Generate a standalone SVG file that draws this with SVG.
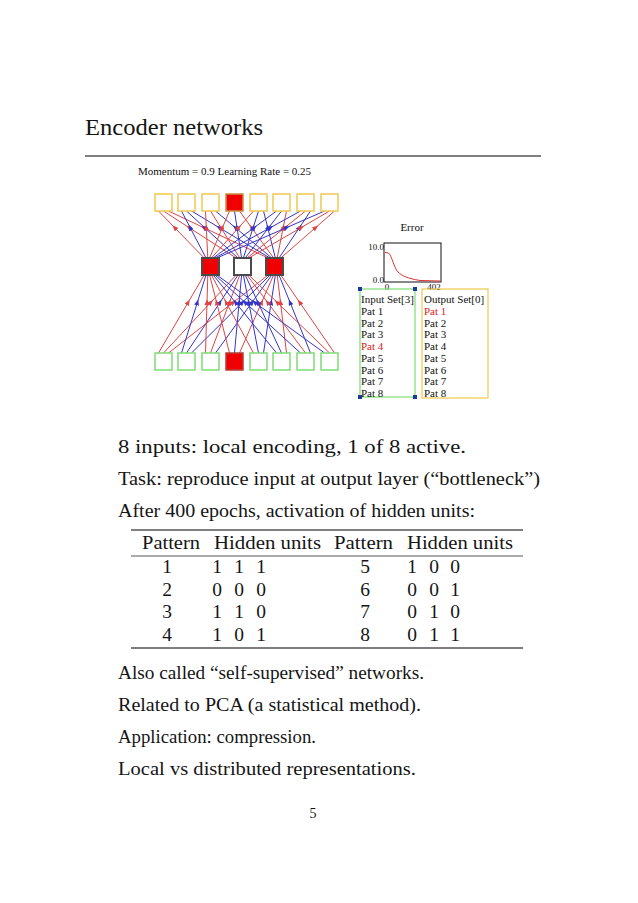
<svg xmlns="http://www.w3.org/2000/svg" width="638" height="903" viewBox="0 0 638 903">
<style>
.bg{fill:#ffffff}
.page{font-family:"Liberation Serif","Times New Roman",serif;fill:#151515}
.body{font-size:19.5px}
.small{font-family:"Liberation Serif","Times New Roman",serif;fill:#111;font-size:11px}
.tiny{font-family:"Liberation Serif","Times New Roman",serif;fill:#111;font-size:9px}
.r{fill:none;stroke:#dd4444;stroke-width:1;marker-mid:url(#ar)}
.b{fill:none;stroke:#3535c8;stroke-width:1;marker-mid:url(#ab)}
.out{fill:#fff;stroke:#f0c850;stroke-width:1.5}
.inp{fill:#fff;stroke:#7ddc74;stroke-width:1.5}
.hid{fill:#fff;stroke:#4a4a4a;stroke-width:2}
.handle{fill:#1b3a9a}
</style>
<defs>
<marker id="ar" markerWidth="6" markerHeight="5" refX="3" refY="2.5" orient="auto" markerUnits="userSpaceOnUse"><path d="M0,0 L6,2.5 L0,5z" fill="#dd4444"/></marker>
<marker id="ab" markerWidth="6" markerHeight="5" refX="3" refY="2.5" orient="auto" markerUnits="userSpaceOnUse"><path d="M0,0 L6,2.5 L0,5z" fill="#3535c8"/></marker>
</defs>
<rect class="bg" x="0" y="0" width="638" height="903"/>

<text class="page" x="85" y="135" font-size="24" textLength="178" lengthAdjust="spacingAndGlyphs">Encoder networks</text>
<line x1="85" y1="156" x2="541" y2="156" stroke="#555" stroke-width="1.5"/>

<text class="small" x="138" y="175">Momentum = 0.9 Learning Rate = 0.25</text>

<g id="connectors">
<path class="r" d="M204.2,258 L174.5,227.5 L158.5,211"/>
<path class="r" d="M236.2,258 L188.9,227.5 L163.5,211"/>
<path class="r" d="M268.2,258 L203.4,227.5 L168.5,211"/>
<path class="b" d="M206,258 L190.1,227.5 L181.5,211"/>
<path class="b" d="M238,258 L204.5,227.5 L186.5,211"/>
<path class="b" d="M270,258 L219,227.5 L191.5,211"/>
<path class="r" d="M207.8,258 L206.3,227.5 L205.5,211"/>
<path class="r" d="M239.8,258 L220.8,227.5 L210.5,211"/>
<path class="b" d="M271.8,258 L235.2,227.5 L215.5,211"/>
<path class="r" d="M209.6,258 L222.5,227.5 L229.5,211"/>
<path class="b" d="M241.6,258 L237,227.5 L234.5,211"/>
<path class="r" d="M273.6,258 L251.4,227.5 L239.5,211"/>
<path class="r" d="M211.4,258 L238.8,227.5 L253.5,211"/>
<path class="b" d="M243.4,258 L253.2,227.5 L258.5,211"/>
<path class="b" d="M275.4,258 L267.7,227.5 L263.5,211"/>
<path class="b" d="M213.2,258 L254.3,227.5 L276.5,211"/>
<path class="b" d="M245.2,258 L268.8,227.5 L281.5,211"/>
<path class="r" d="M277.2,258 L283.2,227.5 L286.5,211"/>
<path class="b" d="M215,258 L270.6,227.5 L300.5,211"/>
<path class="r" d="M247,258 L285,227.5 L305.5,211"/>
<path class="b" d="M279,258 L299.5,227.5 L310.5,211"/>
<path class="b" d="M216.8,258 L286.8,227.5 L324.5,211"/>
<path class="r" d="M248.8,258 L301.3,227.5 L329.5,211"/>
<path class="r" d="M280.8,258 L315.7,227.5 L334.5,211"/>

<path class="r" d="M158.5,353 L188.2,302.3 L204.2,275"/>
<path class="r" d="M163.5,353 L210.8,302.3 L236.2,275"/>
<path class="r" d="M168.5,353 L233.3,302.3 L268.2,275"/>
<path class="b" d="M181.5,353 L197.4,302.3 L206,275"/>
<path class="b" d="M186.5,353 L220,302.3 L238,275"/>
<path class="b" d="M191.5,353 L242.5,302.3 L270,275"/>
<path class="r" d="M205.5,353 L207,302.3 L207.8,275"/>
<path class="r" d="M210.5,353 L229.5,302.3 L239.8,275"/>
<path class="b" d="M215.5,353 L252.1,302.3 L271.8,275"/>
<path class="r" d="M229.5,353 L216.6,302.3 L209.6,275"/>
<path class="b" d="M234.5,353 L239.1,302.3 L241.6,275"/>
<path class="r" d="M239.5,353 L261.7,302.3 L273.6,275"/>
<path class="r" d="M253.5,353 L226.1,302.3 L211.4,275"/>
<path class="b" d="M258.5,353 L248.7,302.3 L243.4,275"/>
<path class="b" d="M263.5,353 L271.2,302.3 L275.4,275"/>
<path class="b" d="M276.5,353 L235.4,302.3 L213.2,275"/>
<path class="b" d="M281.5,353 L257.9,302.3 L245.2,275"/>
<path class="r" d="M286.5,353 L280.5,302.3 L277.2,275"/>
<path class="b" d="M300.5,353 L244.9,302.3 L215,275"/>
<path class="r" d="M305.5,353 L267.5,302.3 L247,275"/>
<path class="b" d="M310.5,353 L290,302.3 L279,275"/>
<path class="b" d="M324.5,353 L254.5,302.3 L216.8,275"/>
<path class="r" d="M329.5,353 L277,302.3 L248.8,275"/>
<path class="r" d="M334.5,353 L299.6,302.3 L280.8,275"/>
</g>

<g id="out1"><rect class="out" x="155" y="194" width="17" height="17"/></g>
<g id="out2"><rect class="out" x="178" y="194" width="17" height="17"/></g>
<g id="out3"><rect class="out" x="202" y="194" width="17" height="17"/></g>
<g id="out4"><rect class="out" x="226" y="194" width="17" height="17" style="fill:#f00000;stroke:#c89040"/></g>
<g id="out5"><rect class="out" x="250" y="194" width="17" height="17"/></g>
<g id="out6"><rect class="out" x="273" y="194" width="17" height="17"/></g>
<g id="out7"><rect class="out" x="297" y="194" width="17" height="17"/></g>
<g id="out8"><rect class="out" x="321" y="194" width="17" height="17"/></g>

<g id="hid1"><rect class="hid" x="202" y="258" width="17" height="17" style="fill:#f00000"/></g>
<g id="hid2"><rect class="hid" x="234" y="258" width="17" height="17"/></g>
<g id="hid3"><rect class="hid" x="266" y="258" width="17" height="17" style="fill:#f00000"/></g>

<g id="in1"><rect class="inp" x="155" y="353" width="17" height="17"/></g>
<g id="in2"><rect class="inp" x="178" y="353" width="17" height="17"/></g>
<g id="in3"><rect class="inp" x="202" y="353" width="17" height="17"/></g>
<g id="in4"><rect class="inp" x="226" y="353" width="17" height="17" style="fill:#f00000;stroke:#b04030"/></g>
<g id="in5"><rect class="inp" x="250" y="353" width="17" height="17"/></g>
<g id="in6"><rect class="inp" x="273" y="353" width="17" height="17"/></g>
<g id="in7"><rect class="inp" x="297" y="353" width="17" height="17"/></g>
<g id="in8"><rect class="inp" x="321" y="353" width="17" height="17"/></g>

<g id="error-plot">
<text class="small" x="412" y="231" text-anchor="middle">Error</text>
<rect x="384" y="243" width="57" height="39" fill="#fff" stroke="#111" stroke-width="1"/>
<path d="M385,252.5 L388.5,253 C392,256 394,268 398,272 C402,276 408,278.5 420,280.5 L440.5,281" fill="none" stroke="#dd3333" stroke-width="1"/>
<text class="tiny" x="384" y="249.5" text-anchor="end">10.0</text>
<text class="tiny" x="384" y="283" text-anchor="end">0.0</text>
<text class="tiny" x="387" y="290" text-anchor="middle">0</text>
<text class="tiny" x="434" y="290" text-anchor="middle">402</text>
</g>

<g id="input-set">
<rect x="360" y="289" width="55" height="108" fill="none" stroke="#7ddc74" stroke-width="1.2"/>
<rect class="handle" x="358" y="287" width="4" height="4"/>
<rect class="handle" x="413" y="287" width="4" height="4"/>
<rect class="handle" x="358" y="395" width="4" height="4"/>
<rect class="handle" x="413" y="395" width="4" height="4"/>
<text class="small" x="361" y="303">Input Set[3]</text>
<text class="small" x="361" y="314.75">Pat 1</text>
<text class="small" x="361" y="326.5">Pat 2</text>
<text class="small" x="361" y="338.25">Pat 3</text>
<text class="small" x="361" y="350" style="fill:#e02020">Pat 4</text>
<text class="small" x="361" y="361.75">Pat 5</text>
<text class="small" x="361" y="373.5">Pat 6</text>
<text class="small" x="361" y="385.25">Pat 7</text>
<text class="small" x="361" y="397">Pat 8</text>
</g>

<g id="output-set">
<rect x="422" y="289" width="66" height="109" fill="none" stroke="#f0c850" stroke-width="1.2"/>
<text class="small" x="424" y="303">Output Set[0]</text>
<text class="small" x="424" y="314.75" style="fill:#e02020">Pat 1</text>
<text class="small" x="424" y="326.5">Pat 2</text>
<text class="small" x="424" y="338.25">Pat 3</text>
<text class="small" x="424" y="350">Pat 4</text>
<text class="small" x="424" y="361.75">Pat 5</text>
<text class="small" x="424" y="373.5">Pat 6</text>
<text class="small" x="424" y="385.25">Pat 7</text>
<text class="small" x="424" y="397">Pat 8</text>
</g>

<text class="page body" x="118" y="453" textLength="348" lengthAdjust="spacingAndGlyphs">8 inputs: local encoding, 1 of 8 active.</text>
<text class="page body" x="118" y="485" textLength="422" lengthAdjust="spacingAndGlyphs">Task: reproduce input at output layer (“bottleneck”)</text>
<text class="page body" x="118" y="517" textLength="357" lengthAdjust="spacingAndGlyphs">After 400 epochs, activation of hidden units:</text>

<g id="table">
<line x1="131" y1="530" x2="523" y2="530" stroke="#555" stroke-width="1.5"/>
<line x1="131" y1="556" x2="523" y2="556" stroke="#555" stroke-width="1"/>
<line x1="131" y1="648" x2="523" y2="648" stroke="#555" stroke-width="1.5"/>
<text class="page body" x="142" y="549" textLength="58" lengthAdjust="spacingAndGlyphs">Pattern</text>
<text class="page body" x="214" y="549" textLength="107" lengthAdjust="spacingAndGlyphs">Hidden units</text>
<text class="page body" x="334" y="549" textLength="59" lengthAdjust="spacingAndGlyphs">Pattern</text>
<text class="page body" x="407" y="549" textLength="106" lengthAdjust="spacingAndGlyphs">Hidden units</text>
<g class="page body" text-anchor="middle">
<text x="167" y="573">1</text><text x="217" y="573">1</text><text x="239" y="573">1</text><text x="261" y="573">1</text>
<text x="365" y="573">5</text><text x="412" y="573">1</text><text x="434" y="573">0</text><text x="455" y="573">0</text>
<text x="167" y="595.5">2</text><text x="217" y="595.5">0</text><text x="239" y="595.5">0</text><text x="261" y="595.5">0</text>
<text x="365" y="595.5">6</text><text x="412" y="595.5">0</text><text x="434" y="595.5">0</text><text x="455" y="595.5">1</text>
<text x="167" y="618">3</text><text x="217" y="618">1</text><text x="239" y="618">1</text><text x="261" y="618">0</text>
<text x="365" y="618">7</text><text x="412" y="618">0</text><text x="434" y="618">1</text><text x="455" y="618">0</text>
<text x="167" y="640.5">4</text><text x="217" y="640.5">1</text><text x="239" y="640.5">0</text><text x="261" y="640.5">1</text>
<text x="365" y="640.5">8</text><text x="412" y="640.5">0</text><text x="434" y="640.5">1</text><text x="455" y="640.5">1</text>
</g>
</g>

<text class="page body" x="118" y="679" textLength="306" lengthAdjust="spacingAndGlyphs">Also called “self-supervised” networks.</text>
<text class="page body" x="118" y="711" textLength="303" lengthAdjust="spacingAndGlyphs">Related to PCA (a statistical method).</text>
<text class="page body" x="118" y="743" textLength="198" lengthAdjust="spacingAndGlyphs">Application: compression.</text>
<text class="page body" x="118" y="775" textLength="298" lengthAdjust="spacingAndGlyphs">Local vs distributed representations.</text>

<text class="page" x="313" y="818" font-size="14" text-anchor="middle">5</text>
</svg>
